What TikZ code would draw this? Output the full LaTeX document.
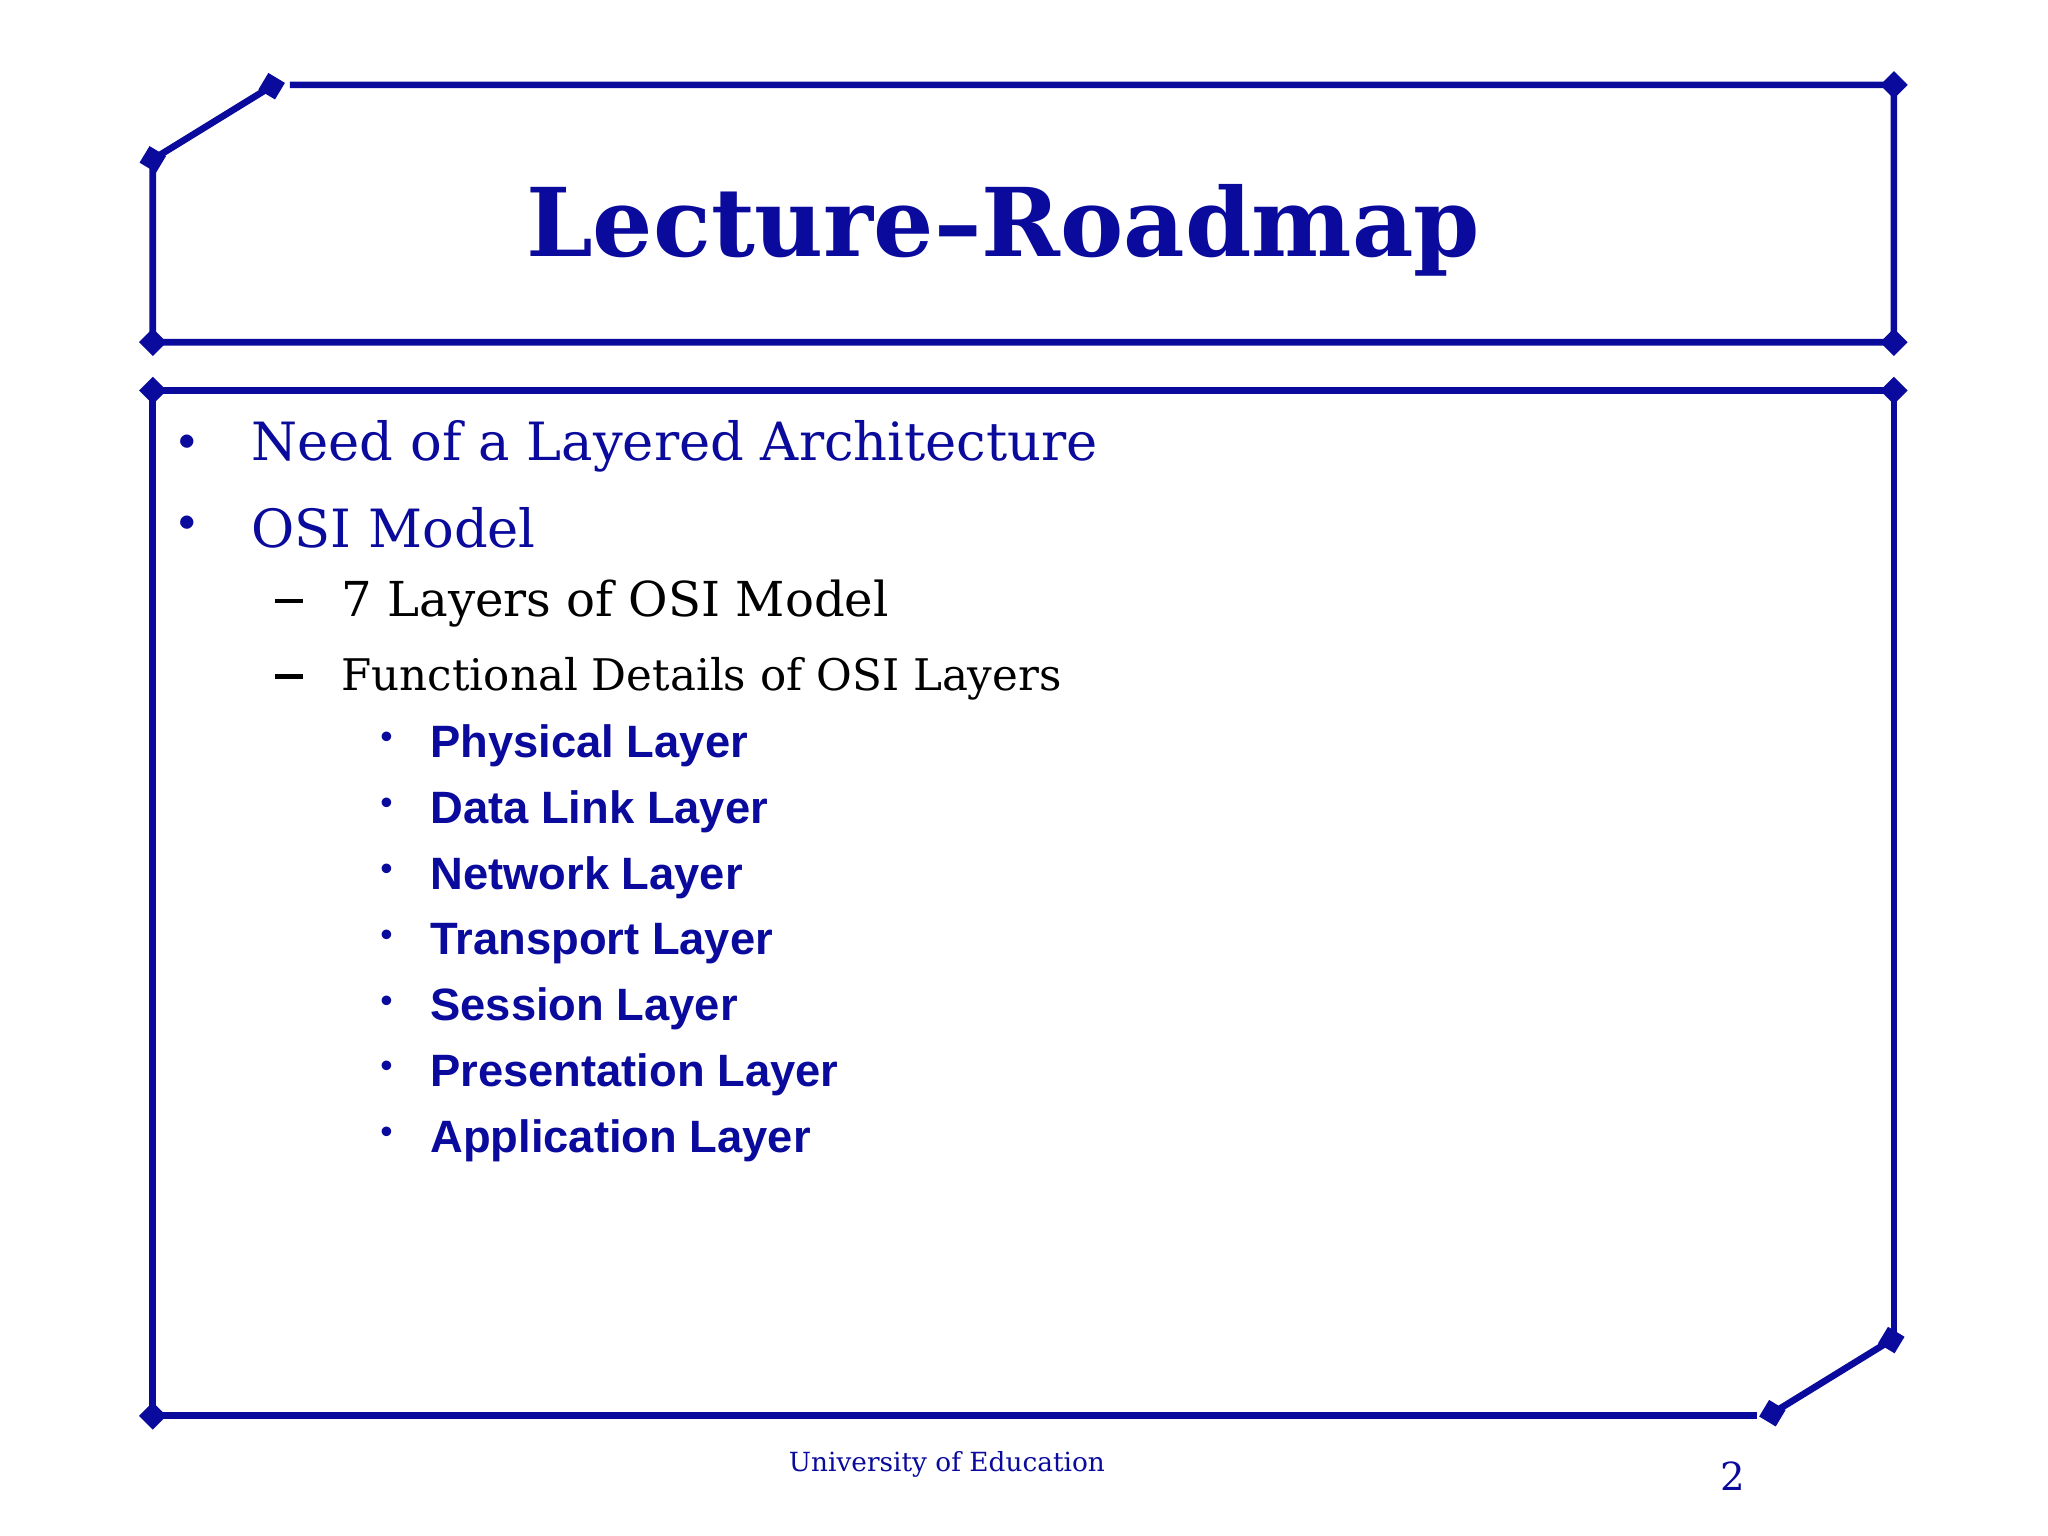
\documentclass[tikz,border=0pt]{standalone}
\usepackage{fontspec}
\newfontfamily\arialb[BoldFont={* Bold}]{Liberation Sans}
\newfontfamily\bk{DejaVu Serif}
\definecolor{dblue}{HTML}{0A0A9C}
\usetikzlibrary{shapes.geometric}
\begin{document}
\begin{tikzpicture}[x=0.01306cm,y=-0.01306cm,
  frame/.style={draw=dblue,line width=1.9pt},
  dia/.style={fill=dblue,shape=diamond,inner sep=0pt,minimum size=8pt},
  sq/.style={fill=dblue,rectangle,inner sep=0pt,minimum size=5.5pt,rotate=-31},
  lone/.style={anchor=west,text=dblue,font=\bk\fontsize{15}{18}\selectfont},
  ltwo/.style={anchor=west,text=black,font=\bk\fontsize{13.7}{16}\selectfont},
  lthree/.style={anchor=west,text=dblue,font=\arialb\bfseries\fontsize{12.9}{15}\selectfont},
  dsh/.style={fill=black,inner sep=0pt,minimum width=8pt,minimum height=1.3pt}]
\useasboundingbox (0,0) rectangle (1568,1176);
% top box
\coordinate (a1) at (117,122); \coordinate (a2) at (208,66);
\coordinate (a3) at (222,65); \coordinate (a4) at (1450,65);
\coordinate (a5) at (1450,262); \coordinate (a6) at (117,262);
\draw[frame] (a2)--(a1)--(a6)--(a5)--(a4)--(a3);
\node[sq] at (a1) {}; \node[sq] at (a2) {};
\node[dia] at (a4) {}; \node[dia] at (a5) {}; \node[dia] at (a6) {};
% bottom box
\coordinate (b1) at (117,299); \coordinate (b2) at (1450,299);
\coordinate (b3) at (1450,1027); \coordinate (b4) at (1448,1026);
\coordinate (b5) at (1357,1082); \coordinate (b6) at (1345,1084);
\coordinate (b7) at (117,1084);
\draw[frame] (b3)--(b2)--(b1)--(b7)--(b6);
\draw[frame] (b4)--(b5);
\node[sq] at (b4) {}; \node[sq] at (b5) {};
\node[dia] at (b1) {}; \node[dia] at (b2) {}; \node[dia] at (b7) {};
% title
\node[text=dblue,font=\bk\bfseries\fontsize{27}{32}\selectfont] (title) at (768,176) {Lecture–Roadmap};
% level 1
\node[text=dblue,font=\fontsize{14}{16}\selectfont] (u1) at (143,340) {\textbullet};
\node[lone] (t1) at (183,342) {Need of a Layered Architecture};
\node[text=dblue,font=\fontsize{14}{16}\selectfont] (u2) at (143,402) {\textbullet};
\node[lone] (t2) at (183,404) {OSI Model};
% level 2
\node[dsh] (d1) at (221,460) {};
\node[ltwo] (s1) at (252,462) {7 Layers of OSI Model};
\node[dsh] (d2) at (221,518) {};
\node[ltwo,font=\bk\fontsize{12.4}{15}\selectfont] (s2) at (252,520) {Functional Details of OSI Layers};
% level 3
\foreach \t [count=\i] in {Physical Layer,Data Link Layer,Network Layer,Transport Layer,Session Layer,Presentation Layer,Application Layer}{
  \node[text=dblue,font=\arialb\fontsize{10}{12}\selectfont] (b\i) at (296,{570+50.4*(\i-1)-3}) {\textbullet};
  \node[lthree] (l\i) at (320,{570+50.4*(\i-1)+1}) {\t};
}
% footer
\node[text=dblue,font=\bk\fontsize{7.5}{10}\selectfont] (foot) at (725,1121) {University of Education};
\node[text=dblue,font=\bk\fontsize{11}{13}\selectfont] (pg) at (1327,1130) {2};
\end{tikzpicture}
\end{document}
